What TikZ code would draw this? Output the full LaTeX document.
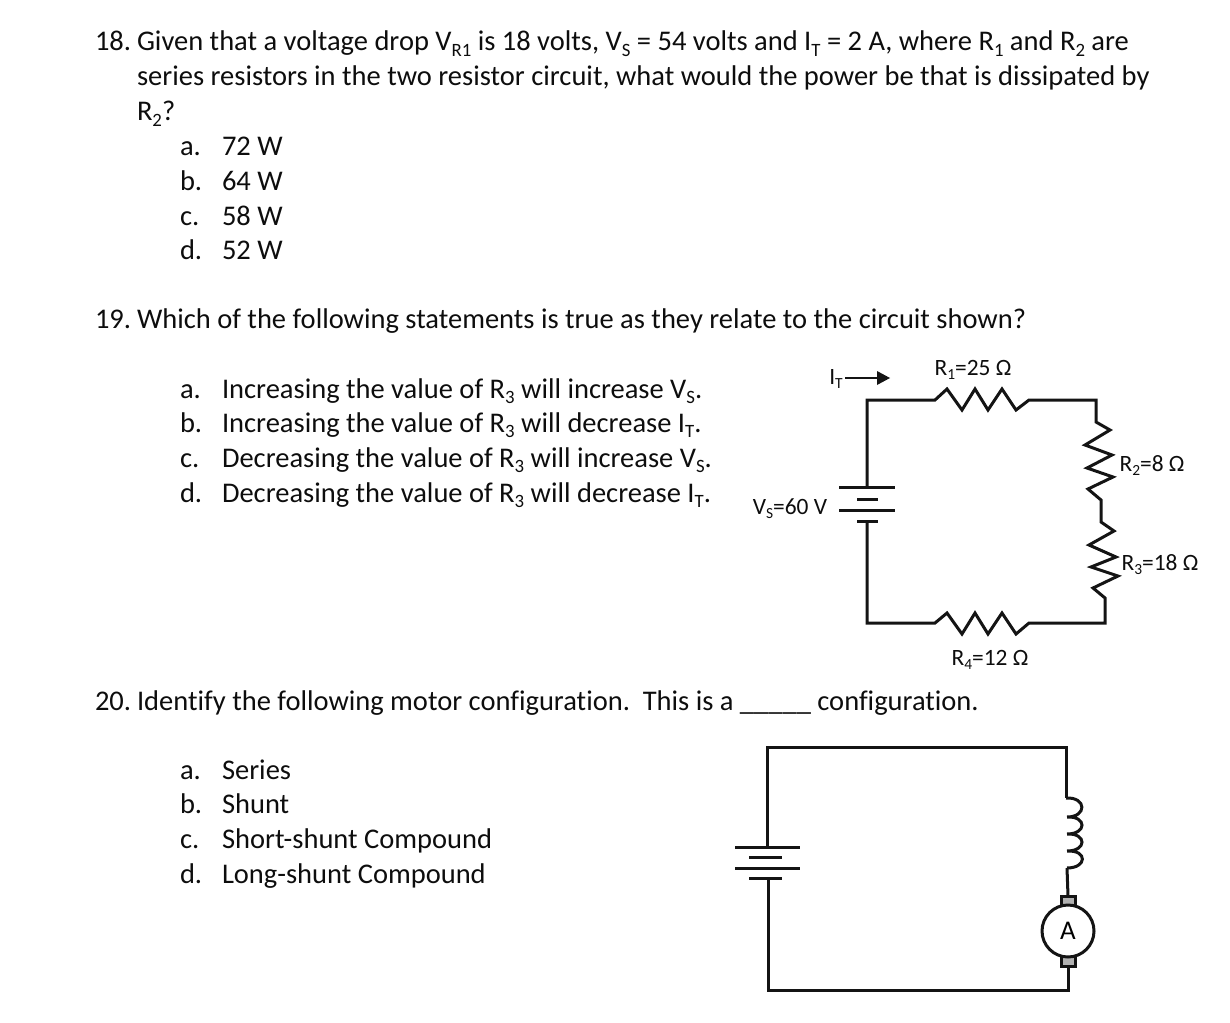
\documentclass[tikz,border=0pt]{standalone}
\usepackage{fontspec}
\usepackage{graphicx}
\setmainfont[Ligatures=NoCommon]{Carlito}
\newcommand{\sbs}[1]{\raisebox{-0.2em}{\scalebox{0.66}{#1}}}
\tikzset{
  qtext/.style={anchor=base west,inner sep=0pt,outer sep=0pt,yshift=-1pt,font=\fontsize{28.5}{32}\selectfont,text=black!95},
  ltext/.style={anchor=base,inner sep=0pt,outer sep=0pt,font=\fontsize{23.4}{27}\selectfont,text=black!95},
  wire/.style={line width=3pt,line join=miter,line cap=butt,black!92},
  plate/.style={line width=3pt,black!92},
  brush/.style={draw=black!92,line width=3pt,fill=black!30,minimum width=14pt,minimum height=10pt,inner sep=0pt,outer sep=0pt},
}
\begin{document}
\begin{tikzpicture}[x=1pt,y=-1pt]
\useasboundingbox (0,0) rectangle (1230,1022);
% Question 18
\node[qtext] (q18n) at (95,50) {18.};
\node[qtext] (q18a) at (137,50) {Given that a voltage drop V\sbs{R1} is 18 volts, V\sbs{S} = 54 volts and I\sbs{T} = 2 A, where R\sbs{1} and R\sbs{2} are};
\node[qtext] (q18b) at (137,85) {series resistors in the two resistor circuit, what would the power be that is dissipated by};
\node[qtext] (q18c) at (137,120) {R\sbs{2}?};
\node[qtext] (a18al) at (180,154) {a.};
\node[qtext] (a18a) at (222,154) {72 W};
\node[qtext] (a18bl) at (180,189) {b.};
\node[qtext] (a18b) at (222,189) {64 W};
\node[qtext] (a18cl) at (180,224) {c.};
\node[qtext] (a18c) at (222,224) {58 W};
\node[qtext] (a18dl) at (180,258) {d.};
\node[qtext] (a18d) at (222,258) {52 W};
% Question 19
\node[qtext] (q19n) at (95,327) {19.};
\node[qtext] (q19a) at (137,327) {Which of the following statements is true as they relate to the circuit shown?};
\node[qtext] (a19al) at (180,397) {a.};
\node[qtext] (a19a) at (222,397) {Increasing the value of R\sbs{3} will increase V\sbs{S}.};
\node[qtext] (a19bl) at (180,431) {b.};
\node[qtext] (a19b) at (222,431) {Increasing the value of R\sbs{3} will decrease I\sbs{T}.};
\node[qtext] (a19cl) at (180,466) {c.};
\node[qtext] (a19c) at (222,466) {Decreasing the value of R\sbs{3} will increase V\sbs{S}.};
\node[qtext] (a19dl) at (180,501) {d.};
\node[qtext] (a19d) at (222,501) {Decreasing the value of R\sbs{3} will decrease I\sbs{T}.};
% Question 20
\node[qtext] (q20n) at (95,709) {20.};
\node[qtext] (q20a) at (137,709) {Identify the following motor configuration.\ \ This is a \_\_\_\_\_\ configuration.};
\node[qtext] (a20al) at (180,778) {a.};
\node[qtext] (a20a) at (222,778) {Series};
\node[qtext] (a20bl) at (180,812) {b.};
\node[qtext] (a20b) at (222,812) {Shunt};
\node[qtext] (a20cl) at (180,847) {c.};
\node[qtext] (a20c) at (222,847) {Short-shunt Compound};
\node[qtext] (a20dl) at (180,882) {d.};
\node[qtext] (a20d) at (222,882) {Long-shunt Compound};
% Circuit 1 labels
\node[ltext] (lit) at (836,384) {I\sbs{T}};
\node[ltext] (lr1) at (973,375) {R\sbs{1}=25 Ω};
\node[ltext] (lr2) at (1152,471) {R\sbs{2}=8 Ω};
\node[ltext] (lr3) at (1160,570) {R\sbs{3}=18 Ω};
\node[ltext] (lr4) at (990,665) {R\sbs{4}=12 Ω};
\node[ltext] (lvs) at (790,514) {V\sbs{S}=60 V};
% Circuit 1
\coordinate (arrA) at (845,378);
\coordinate (arrB) at (890,378);
\draw[line width=1.8pt,black!92] (arrA) -- (878,378);
\fill[black!92] (arrB) -- (877,371) -- (877,385) -- cycle;
\coordinate (topL) at (867,400);
\coordinate (topR) at (1096,400);
\coordinate (botL) at (867,623);
\coordinate (botR) at (1105,623);
\coordinate (bat1) at (867,487);
\coordinate (bat4) at (867,521);
\draw[wire] (bat1) -- (topL) -- (935,400) -- (947,389) -- (962,410) -- (975,389) -- (988,410) -- (1002,389) -- (1016,410) -- (1029,400) -- (topR) -- (1096,422)
  -- (1110,430) -- (1085,445) -- (1112,455) -- (1087,468) -- (1113,477) -- (1088,489) -- (1101,500) -- (1101,522)
  -- (1114,531) -- (1089,545) -- (1116,557) -- (1091,567) -- (1118,576) -- (1093,588) -- (1105,598) -- (botR)
  -- (1029,623) -- (1016,634) -- (1002,613) -- (988,634) -- (975,613) -- (962,634) -- (947,613) -- (935,623) -- (botL) -- (bat4);
\draw[plate] (839,487) -- (895,487);
\draw[plate] (857,499) -- (878,499);
\draw[plate] (839,510) -- (895,510);
\draw[plate] (857,521) -- (878,521);
% Circuit 2
\node[brush] (brT) at (1068,901) {};
\node[brush] (brB) at (1068,961) {};
\node[draw=black!92,line width=3pt,circle,fill=white,minimum size=52pt,inner sep=0pt,outer sep=0pt,font=\fontsize{27}{30}\selectfont] (mot) at (1068,931) {A};
\coordinate (tL) at (767,747);
\coordinate (tR) at (1066,747);
\coordinate (cT) at (1066,798);
\coordinate (cB) at (1067,868);
\coordinate (bL) at (768,990);
\coordinate (bR) at (1068,990);
\draw[wire] (767,847) -- (tL) -- (tR) -- (cT);
\draw[wire] (cT) .. controls (1087,797) and (1087,817) .. (1067,817)
  (1067,817) .. controls (1087,816) and (1087,834) .. (1067,834)
  (1067,834) .. controls (1087,833) and (1087,851) .. (1067,851)
  (1067,851) .. controls (1088,850) and (1087,868) .. (cB);
\draw[wire] (cB) -- (brT.north);
\draw[wire] (brB.south) -- (bR) -- (bL) -- (768,878);
\draw[plate] (735,847) -- (800,847);
\draw[plate] (749,857) -- (782,857);
\draw[plate] (735,868) -- (800,868);
\draw[plate] (749,878) -- (782,878);
\end{tikzpicture}
\end{document}
